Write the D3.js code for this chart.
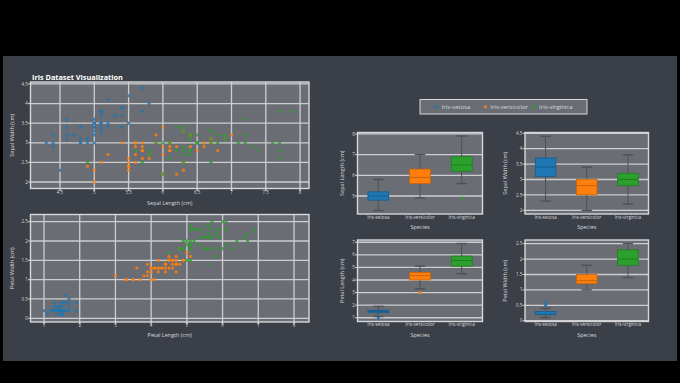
<!DOCTYPE html>
<html><head><meta charset="utf-8">
<script src="https://cdn.jsdelivr.net/npm/d3@7"></script>
<style>html,body{margin:0;padding:0;background:#000;}svg{display:block}</style>
</head><body><svg id="c" width="680" height="383"></svg>
<script>
// ---------------- DATA ----------------
const species = ["Iris-setosa", "Iris-versicolor", "Iris-virginica"];
const colors = ["#1f77b4", "#ff7f0e", "#2ca02c"];

const setosaSepalLength = [5.1,4.9,4.7,4.6,5.0,5.4,4.6,5.0,4.4,4.9,5.4,4.8,4.8,4.3,5.8,5.7,5.4,5.1,5.7,5.1,5.4,5.1,4.6,5.1,4.8,5.0,5.0,5.2,5.2,4.7,4.8,5.4,5.2,5.5,4.9,5.0,5.5,4.9,4.4,5.1,5.0,4.5,4.4,5.0,5.1,4.8,5.1,4.6,5.3,5.0];
const setosaSepalWidth  = [3.5,3.0,3.2,3.1,3.6,3.9,3.4,3.4,2.9,3.1,3.7,3.4,3.0,3.0,4.0,4.4,3.9,3.5,3.8,3.8,3.4,3.7,3.6,3.3,3.4,3.0,3.4,3.5,3.4,3.2,3.1,3.4,4.1,4.2,3.1,3.2,3.5,3.1,3.0,3.4,3.5,2.3,3.2,3.5,3.8,3.0,3.8,3.2,3.7,3.3];
const setosaPetalLength = [1.4,1.4,1.3,1.5,1.4,1.7,1.4,1.5,1.4,1.5,1.5,1.6,1.4,1.1,1.2,1.5,1.3,1.4,1.7,1.5,1.7,1.5,1.0,1.7,1.9,1.6,1.6,1.5,1.4,1.6,1.6,1.5,1.5,1.4,1.5,1.2,1.3,1.5,1.3,1.5,1.3,1.3,1.3,1.6,1.9,1.4,1.6,1.4,1.5,1.4];
const setosaPetalWidth  = [0.2,0.2,0.2,0.2,0.2,0.4,0.3,0.2,0.2,0.1,0.2,0.2,0.1,0.1,0.2,0.4,0.4,0.3,0.3,0.3,0.2,0.4,0.2,0.5,0.2,0.2,0.4,0.2,0.2,0.2,0.2,0.4,0.1,0.2,0.1,0.2,0.2,0.1,0.2,0.2,0.3,0.3,0.2,0.6,0.4,0.3,0.2,0.2,0.2,0.2];

const versicolorSepalLength = [7.0,6.4,6.9,5.5,6.5,5.7,6.3,4.9,6.6,5.2,5.0,5.9,6.0,6.1,5.6,6.7,5.6,5.8,6.2,5.6,5.9,6.1,6.3,6.1,6.4,6.6,6.8,6.7,6.0,5.7,5.5,5.5,5.8,6.0,5.4,6.0,6.7,6.3,5.6,5.5,5.5,6.1,5.8,5.0,5.6,5.7,5.7,6.2,5.1,5.7];
const versicolorSepalWidth  = [3.2,3.2,3.1,2.3,2.8,2.8,3.3,2.4,2.9,2.7,2.0,3.0,2.2,2.9,2.9,3.1,3.0,2.7,2.2,2.5,3.2,2.8,2.5,2.8,2.9,3.0,2.8,3.0,2.9,2.6,2.4,2.4,2.7,2.7,3.0,3.4,3.1,2.3,3.0,2.5,2.6,3.0,2.6,2.3,2.7,3.0,2.9,2.9,2.5,2.8];
const versicolorPetalLength = [4.7,4.5,4.9,4.0,4.6,4.5,4.7,3.3,4.6,3.9,3.5,4.2,4.0,4.7,3.6,4.4,4.5,4.1,4.5,3.9,4.8,4.0,4.9,4.7,4.3,4.4,4.8,5.0,4.5,3.5,3.8,3.7,3.9,5.1,4.5,4.5,4.7,4.4,4.1,4.0,4.4,4.6,4.0,3.3,4.2,4.2,4.2,4.3,3.0,4.1];
const versicolorPetalWidth  = [1.4,1.5,1.5,1.3,1.5,1.3,1.6,1.0,1.3,1.4,1.0,1.5,1.0,1.4,1.3,1.4,1.5,1.0,1.5,1.1,1.8,1.3,1.5,1.2,1.3,1.4,1.4,1.7,1.5,1.0,1.1,1.0,1.2,1.6,1.5,1.6,1.5,1.3,1.3,1.3,1.2,1.4,1.2,1.0,1.3,1.2,1.3,1.3,1.1,1.3];

const virginicaSepalLength = [6.3,5.8,7.1,6.3,6.5,7.6,4.9,7.3,6.7,7.2,6.5,6.4,6.8,5.7,5.8,6.4,6.5,7.7,7.7,6.0,6.9,5.6,7.7,6.3,6.7,7.2,6.2,6.1,6.4,7.2,7.4,7.9,6.4,6.3,6.1,7.7,6.3,6.4,6.0,6.9,6.7,6.9,5.8,6.8,6.7,6.7,6.3,6.5,6.2,5.9];
const virginicaSepalWidth  = [3.3,2.7,3.0,2.9,3.0,3.0,2.5,2.9,2.5,3.6,3.2,2.7,3.0,2.5,2.8,3.2,3.0,3.8,2.6,2.2,3.2,2.8,2.8,2.7,3.3,3.2,2.8,3.0,2.8,3.0,2.8,3.8,2.8,2.8,2.6,3.0,3.4,3.1,3.0,3.1,3.1,3.1,2.7,3.2,3.3,3.0,2.5,3.0,3.4,3.0];
const virginicaPetalLength = [6.0,5.1,5.9,5.6,5.8,6.6,4.5,6.3,5.8,6.1,5.1,5.3,5.5,5.0,5.1,5.3,5.5,6.7,6.9,5.0,5.7,4.9,6.7,4.9,5.7,6.0,4.8,4.9,5.6,5.8,6.1,6.4,5.6,5.1,5.6,6.1,5.6,5.5,4.8,5.4,5.6,5.1,5.1,5.9,5.7,5.2,5.0,5.2,5.4,5.1];
const virginicaPetalWidth  = [2.5,1.9,2.1,1.8,2.2,2.1,1.7,1.8,1.8,2.5,2.0,1.9,2.1,2.0,2.4,2.3,1.8,2.2,2.3,1.5,2.3,2.0,2.0,1.8,2.1,1.8,1.8,1.8,2.1,1.6,1.9,2.0,2.2,1.5,1.4,2.3,2.4,1.8,1.8,2.1,2.4,2.3,1.9,2.3,2.5,2.3,1.9,2.0,2.3,1.8];

// box statistics per species: [lower whisker, q1, median, q3, upper whisker]
const sepalLengthBox = [[4.3,4.8,5.0,5.2,5.8],[4.9,5.6,5.9,6.3,7.0],[5.6,6.2,6.5,6.9,7.9]];
const sepalWidthBox  = [[2.3,3.1,3.4,3.7,4.4],[2.0,2.5,2.8,3.0,3.4],[2.2,2.8,3.0,3.2,3.8]];
const petalLengthBox = [[1.1,1.4,1.5,1.6,1.9],[3.3,4.0,4.35,4.6,5.1],[4.5,5.1,5.55,5.9,6.9]];
const petalWidthBox  = [[0.1,0.2,0.2,0.3,0.4],[1.0,1.2,1.3,1.5,1.8],[1.4,1.8,2.0,2.3,2.5]];
const sepalLengthOutliers = [[],[],[4.9]];
const sepalWidthOutliers  = [[],[],[]];
const petalLengthOutliers = [[1.0],[3.0],[]];
const petalWidthOutliers  = [[0.5,0.6],[],[]];

// tick values
const sepalLengthTicks = [4.5,5,5.5,6,6.5,7,7.5,8];
const sepalWidthTicks  = [2,2.5,3,3.5,4,4.5];
const petalLengthTicks = [1,2,3,4,5,6,7,8];
const petalWidthTicks  = [0,0.5,1,1.5,2,2.5];
const boxSLTicks = [5,6,7,8];
const boxSWTicks = [2,2.5,3,3.5,4,4.5];
const boxPLTicks = [1,2,3,4,5,6,7];
const boxPWTicks = [0,0.5,1,1.5,2,2.5];

// ---------------- STYLE ----------------
const FONT = "'Open Sans', 'Liberation Sans', sans-serif";
const PANEL = "#3b3f47";
const PLOTBG = "#6a6d73";
const GRID = "#cdced1";
const FRAME = "#d6d7d9";
const TXT = "#d9dadc";
const WHISK = "#4e5156";

const svg = d3.select("#c");
svg.append("rect").attr("width", 680).attr("height", 383).attr("fill", "#000");
svg.append("rect").attr("x", 3).attr("y", 56).attr("width", 674).attr("height", 305).attr("fill", PANEL);

svg.append("text").attr("x", 32).attr("y", 79.6)
  .attr("font-family", FONT).attr("font-weight", "bold").attr("font-size", 7.3)
  .attr("fill", "#ffffff").text("Iris Dataset Visualization");

function fmt(v) { return String(v); }

function panelBase(x, y, opts) {
  const g = svg.append("g");
  const [x0, x1] = x.range();
  const [yb, yt] = y.range();
  g.append("rect").attr("x", x0).attr("y", yt).attr("width", x1 - x0).attr("height", yb - yt).attr("fill", PLOTBG);
  // horizontal grid
  g.selectAll(".hg").data(opts.yTicks).enter().append("line")
    .attr("x1", x0).attr("x2", x1).attr("y1", d => y(d)).attr("y2", d => y(d))
    .attr("stroke", GRID).attr("stroke-width", 1.3);
  // y ticks
  g.selectAll(".yt").data(opts.yTicks).enter().append("line")
    .attr("x1", x0 - 2.5).attr("x2", x0).attr("y1", d => y(d)).attr("y2", d => y(d))
    .attr("stroke", GRID).attr("stroke-width", 1);
  g.selectAll(".yl").data(opts.yTicks).enter().append("text")
    .attr("x", x0 - 2.6).attr("y", d => y(d) + 1.6).attr("text-anchor", "end")
    .attr("font-family", FONT).attr("font-size", 4.5).attr("fill", TXT).text(fmt);
  if (opts.xTicks) {
    g.selectAll(".vg").data(opts.xTicks).enter().append("line")
      .attr("x1", d => x(d)).attr("x2", d => x(d)).attr("y1", yt).attr("y2", yb + 2.5)
      .attr("stroke", GRID).attr("stroke-width", 1.3);
    g.selectAll(".xl").data(opts.xTicks).enter().append("text")
      .attr("x", d => x(d)).attr("y", yb + 5.2).attr("text-anchor", "middle")
      .attr("font-family", FONT).attr("font-size", 4.5).attr("fill", TXT).text(fmt);
  }
  // axis titles
  g.append("text").attr("x", (x0 + x1) / 2).attr("y", opts.xTitleY)
    .attr("text-anchor", "middle").attr("font-family", FONT).attr("font-size", 5.5)
    .attr("fill", TXT).text(opts.xTitle);
  const cy = (yb + yt) / 2;
  g.append("text").attr("transform", `translate(${opts.yTitleX},${cy}) rotate(-90)`)
    .attr("text-anchor", "middle").attr("font-family", FONT).attr("font-size", 5.5)
    .attr("fill", TXT).text(opts.yTitle);
  return g;
}

function frame(g, x, y) {
  const [x0, x1] = x.range();
  const [yb, yt] = y.range();
  g.append("rect").attr("x", x0).attr("y", yt).attr("width", x1 - x0).attr("height", yb - yt)
    .attr("fill", "none").attr("stroke", FRAME).attr("stroke-width", 1.4);
}

// ---------------- SCATTERS ----------------
function scatter(xDomain, xRange, yDomain, yRange, xs, ys, opts) {
  const x = d3.scaleLinear().domain(xDomain).range(xRange);
  const y = d3.scaleLinear().domain(yDomain).range(yRange);
  const g = panelBase(x, y, opts);
  frame(g, x, y);
  xs.forEach((arr, si) => {
    g.selectAll(null).data(arr.map((v, i) => [v, ys[si][i]])).enter().append("circle")
      .attr("cx", d => x(d[0])).attr("cy", d => y(d[1])).attr("r", 1.65)
      .attr("fill", colors[si]).attr("fill-opacity", 0.8);
  });
}

scatter([4.07, 8.13], [30.5, 309], [1.834, 4.55], [188.5, 82],
  [setosaSepalLength, versicolorSepalLength, virginicaSepalLength],
  [setosaSepalWidth, versicolorSepalWidth, virginicaSepalWidth],
  { xTicks: sepalLengthTicks, yTicks: sepalWidthTicks, xTitle: "Sepal Length (cm)", yTitle: "Sepal Width (cm)", xTitleY: 204.5, yTitleX: 13.5 });

scatter([0.622, 8.42], [30.5, 309], [-0.096, 2.686], [322, 214.5],
  [setosaPetalLength, versicolorPetalLength, virginicaPetalLength],
  [setosaPetalWidth, versicolorPetalWidth, virginicaPetalWidth],
  { xTicks: petalLengthTicks, yTicks: petalWidthTicks, xTitle: "Petal Length (cm)", yTitle: "Petal Width (cm)", xTitleY: 337, yTitleX: 13.5 });

// ---------------- BOX PLOTS ----------------
function boxplot(xRange, yDomain, yRange, stats, outliers, ticks, yTitle, yTitleX, labelY, titleY) {
  const x = d3.scaleBand().domain(species).range(xRange).padding(0);
  const y = d3.scaleLinear().domain(yDomain).range(yRange);
  const g = panelBase(x, y, { yTicks: ticks, xTitle: "Species", yTitle: yTitle, xTitleY: titleY, yTitleX: yTitleX });
  const bw = x.bandwidth() * 0.5;
  const cw = bw * 0.5;
  species.forEach((sp, i) => {
    const s = stats[i];
    const cx = x(sp) + x.bandwidth() / 2;
    const col = colors[i];
    const dark = d3.color(col).darker(0.7).formatHex();
    // whiskers
    g.append("line").attr("x1", cx).attr("x2", cx).attr("y1", y(s[0])).attr("y2", y(s[1])).attr("stroke", WHISK).attr("stroke-width", 1);
    g.append("line").attr("x1", cx).attr("x2", cx).attr("y1", y(s[3])).attr("y2", y(s[4])).attr("stroke", WHISK).attr("stroke-width", 1);
    [s[0], s[4]].forEach(v => {
      g.append("line").attr("x1", cx - cw / 2).attr("x2", cx + cw / 2).attr("y1", y(v)).attr("y2", y(v))
        .attr("stroke", WHISK).attr("stroke-width", 1.4);
    });
    // box
    g.append("rect").attr("x", cx - bw / 2).attr("width", bw).attr("y", y(s[3])).attr("height", Math.max(1, y(s[1]) - y(s[3])))
      .attr("fill", col).attr("stroke", dark).attr("stroke-width", 0.8);
    g.append("line").attr("x1", cx - bw / 2).attr("x2", cx + bw / 2).attr("y1", y(s[2])).attr("y2", y(s[2]))
      .attr("stroke", dark).attr("stroke-width", 1);
    // outliers
    g.selectAll(null).data(outliers[i]).enter().append("circle")
      .attr("cx", cx).attr("cy", d => y(d)).attr("r", 1.5).attr("fill", col);
    // category label
    g.append("text").attr("x", cx).attr("y", labelY).attr("text-anchor", "middle")
      .attr("font-family", FONT).attr("font-size", 4.7).attr("fill", TXT).text(sp);
  });
  frame(g, x, y);
}

boxplot([357.5, 482.5], [4.13, 8.07], [214, 132.5], sepalLengthBox, sepalLengthOutliers, boxSLTicks, "Sepal Length (cm)", 344, 219.2, 228.6);
boxplot([525, 648.5], [1.88, 4.526], [214, 132.5], sepalWidthBox, sepalWidthOutliers, boxSWTicks, "Sepal Width (cm)", 507, 219.2, 228.6);
boxplot([357.5, 482.5], [0.70, 7.18], [321.5, 240], petalLengthBox, petalLengthOutliers, boxPLTicks, "Petal Length (cm)", 344, 326.2, 337);
boxplot([525, 648.5], [-0.026, 2.62], [321.5, 240], petalWidthBox, petalWidthOutliers, boxPWTicks, "Petal Width (cm)", 507, 326.2, 337);

// ---------------- LEGEND ----------------
const lg = svg.append("g");
lg.append("rect").attr("x", 420).attr("y", 99.5).attr("width", 167).attr("height", 14.5)
  .attr("fill", PLOTBG).attr("stroke", FRAME).attr("stroke-width", 1);
const legendX = d3.scalePoint().domain(species).range([436.7, 534]);
species.forEach((sp, i) => {
  lg.append("circle").attr("cx", legendX(sp)).attr("cy", 106.8).attr("r", 1.5).attr("fill", colors[i]);
  lg.append("text").attr("x", legendX(sp) + 5).attr("y", 108.9)
    .attr("font-family", FONT).attr("font-size", 6).attr("fill", TXT).text(sp);
});
</script></body></html>
